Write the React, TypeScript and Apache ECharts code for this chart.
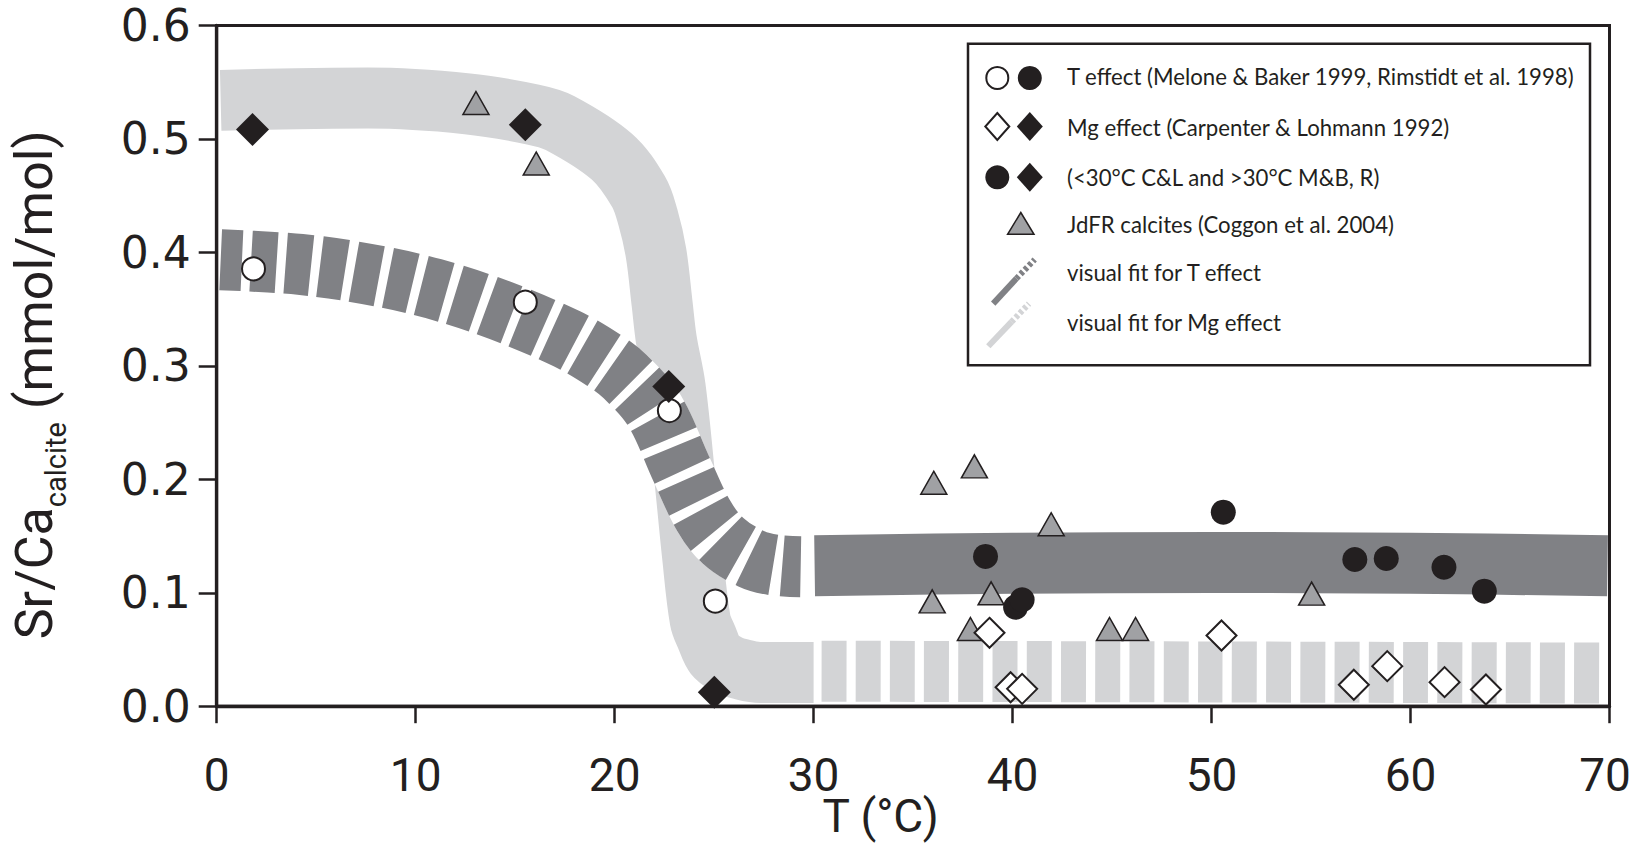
import React, { useEffect, useRef } from "react";
import * as echarts from "echarts";

const INK = "#231f20";
const LIGHT = "#d3d4d6";
const DARK = "#808185";
const TRI = "#a0a1a4";

// visual fit for Mg effect (light band): solid part 0-30 °C, dashed part 30-70 °C
const mgFitSolid: number[][] = [
  [0.2, 0.534], [4.0, 0.5355], [7.6, 0.536], [12.6, 0.531], [15.9, 0.5215],
  [17.26, 0.514], [19.86, 0.4844], [21.2, 0.4535], [21.67, 0.431], [22.08, 0.3995],
  [22.38, 0.3556], [22.6, 0.3228], [23.04, 0.2814], [23.57, 0.1932], [23.9, 0.135],
  [24.3, 0.0759], [24.63, 0.0605], [25.04, 0.0451], [25.67, 0.0368], [26.3, 0.0328],
  [27.32, 0.0297], [30.0, 0.0297],
];
const mgFitDashed: number[][] = [[30.4, 0.0308], [50, 0.0302], [69.5, 0.0292]];

// visual fit for T effect (dark band): dashed part 0-30 °C, solid part 30-70 °C
const tFitDashed: number[][] = [
  [0.2, 0.3936], [4.2, 0.3894], [7.55, 0.381], [10.9, 0.368], [14.25, 0.3488],
  [17.6, 0.3238], [19.45, 0.305], [20.53, 0.2905], [22.0, 0.2606], [23.35, 0.2092],
  [24.47, 0.168], [25.44, 0.146], [26.86, 0.13], [28.0, 0.1245], [29.35, 0.1229],
];
const tFitSolid: number[][] = [[30.05, 0.1238], [40, 0.126], [50, 0.1267], [60, 0.126], [69.9, 0.1238]];

// T effect, open circles (Melone & Baker 1999, Rimstidt et al. 1998)
const tEffectOpen: number[][] = [[1.85, 0.3855], [15.51, 0.3561], [22.75, 0.2606], [25.06, 0.0926]];
// >30 °C M&B, R filled circles
const tEffectFilled: number[][] = [
  [38.64, 0.132], [40.15, 0.0873], [40.48, 0.0938], [50.59, 0.171],
  [57.2, 0.1293], [58.78, 0.1302], [61.68, 0.1225], [63.71, 0.1014],
];
// Mg effect open diamonds (Carpenter & Lohmann 1992)
const mgEffectOpen: number[][] = [
  [38.84, 0.0647], [39.9, 0.0167], [40.48, 0.0153], [50.5, 0.0623],
  [57.15, 0.0189], [58.83, 0.0353], [61.71, 0.0212], [63.79, 0.0147],
];
// <30 °C C&L filled diamonds
const mgEffectFilled: number[][] = [[1.8, 0.5083], [15.51, 0.5125], [22.72, 0.2818], [25.01, 0.0123]];
// JdFR calcites (Coggon et al. 2004)
const jdfr: number[][] = [
  [13.03, 0.5317], [16.06, 0.4784], [36.04, 0.197], [38.08, 0.2114], [41.94, 0.1604],
  [35.96, 0.0924], [38.92, 0.0995], [37.88, 0.068], [44.87, 0.068], [46.18, 0.068], [55.03, 0.0992],
];

const legendLabels = [
  "T effect (Melone & Baker 1999, Rimstidt et al. 1998)",
  "Mg effect (Carpenter & Lohmann 1992)",
  "(<30°C C&L and >30°C M&B, R)",
  "JdFR calcites (Coggon et al. 2004)",
  "visual fit for T effect",
  "visual fit for Mg effect",
];

const BAND_W = 61;

function band(data: number[][], color: string, z: number, dash?: number[], offset = 0) {
  return {
    type: "line",
    data,
    showSymbol: false,
    symbol: "none",
    smooth: 0.35,
    silent: true,
    z,
    lineStyle: {
      width: BAND_W,
      color,
      cap: "butt",
      join: "round",
      type: dash ? dash : "solid",
      dashOffset: offset,
    },
    emphasis: { disabled: true },
  };
}

function scatter(data: number[][], symbol: string, size: any, fill: string, border: string, bw: number, z: number) {
  return {
    type: "scatter",
    data,
    symbol,
    symbolSize: size,
    z,
    silent: true,
    itemStyle: { color: fill, borderColor: border, borderWidth: bw, opacity: 1 },
    emphasis: { disabled: true },
  };
}

const diamond = (cx: number, cy: number, hw: number, hh: number) => [
  [cx, cy - hh], [cx + hw, cy], [cx, cy + hh], [cx - hw, cy],
];

function legendGraphic() {
  const rows = [76.5, 127, 177.3, 224.5, 272.7, 322];
  const tx = 1067;
  const els: any[] = [
    { type: "rect", shape: { x: 968, y: 43.7, width: 622, height: 321.6 }, style: { fill: "#fff", stroke: INK, lineWidth: 2.5 }, z: 100 },
    { type: "circle", shape: { cx: 997.3, cy: 78, r: 11 }, style: { fill: "#fff", stroke: INK, lineWidth: 2 }, z: 101 },
    { type: "circle", shape: { cx: 1029.8, cy: 78, r: 12 }, style: { fill: INK }, z: 101 },
    { type: "polygon", shape: { points: diamond(997.3, 126.5, 12, 13.5) }, style: { fill: "#fff", stroke: INK, lineWidth: 2 }, z: 101 },
    { type: "polygon", shape: { points: diamond(1029.8, 126.5, 13, 14.5) }, style: { fill: INK }, z: 101 },
    { type: "circle", shape: { cx: 997.3, cy: 177.3, r: 12 }, style: { fill: INK }, z: 101 },
    { type: "polygon", shape: { points: diamond(1029.8, 177.3, 13, 14.5) }, style: { fill: INK }, z: 101 },
    { type: "polygon", shape: { points: [[1020.8, 212.5], [1034, 234.3], [1007.6, 234.3]] }, style: { fill: TRI, stroke: INK, lineWidth: 1.5 }, z: 101 },
    { type: "line", shape: { x1: 993.2, y1: 303.6, x2: 1016.4, y2: 278.5 }, style: { stroke: DARK, lineWidth: 6 }, z: 101 },
    { type: "line", shape: { x1: 1016.4, y1: 278.5, x2: 1034.7, y2: 259.5 }, style: { stroke: DARK, lineWidth: 6, lineDash: [3.5, 2.5] }, z: 101 },
    { type: "line", shape: { x1: 988.3, y1: 346.3, x2: 1011.5, y2: 321.9 }, style: { stroke: LIGHT, lineWidth: 6 }, z: 101 },
    { type: "line", shape: { x1: 1011.5, y1: 321.9, x2: 1029, y2: 303.6 }, style: { stroke: LIGHT, lineWidth: 6, lineDash: [3.5, 2.5] }, z: 101 },
  ];
  legendLabels.forEach((t, i) => {
    els.push({
      type: "text",
      x: tx,
      y: rows[i],
      z: 102,
      style: { text: t, fontFamily: "Lato", fontSize: 22.2, fill: INK, align: "left", verticalAlign: "middle" },
    });
  });
  return els;
}

export default function App() {
  const ref = useRef<HTMLDivElement>(null);
  useEffect(() => {
    if (!ref.current) return;
    const chart = echarts.init(ref.current, undefined, { renderer: "svg" });
    const xLabelStyle = { fontFamily: "Roboto", fontSize: 46, color: INK };
    const option: any = {
      animation: false,
      backgroundColor: "#ffffff",
      grid: {
        left: 216.7, right: 22.5, top: 25.5, bottom: 149.8,
        containLabel: false, outerBoundsMode: "none",
        show: true, borderColor: INK, borderWidth: 3, backgroundColor: "transparent",
      },
      xAxis: {
        type: "value", min: 0, max: 70, interval: 10,
        name: "T (°C)", nameLocation: "middle", nameGap: 87, nameMoveOverlap: false,
        nameTextStyle: { fontFamily: "Roboto", fontSize: 46, color: INK, padding: [0, 65, 0, 0] },
        axisLine: { show: true, onZero: false, lineStyle: { color: INK, width: 3.3 } },
        axisTick: { show: true, inside: false, length: 17, lineStyle: { color: INK, width: 2.5 } },
        axisLabel: {
          margin: 46, ...xLabelStyle,
          formatter: (v: number) => (v >= 70 ? `{e|${v}}` : `${v}`),
          rich: { e: { ...xLabelStyle, padding: [0, 9, 0, 0] } },
        },
        splitLine: { show: false },
      },
      yAxis: {
        type: "value", min: 0, max: 0.6, interval: 0.1,
        name: "{a|Sr/Ca}{b|calcite}{a| (mmol/mol)}", nameLocation: "middle", nameGap: 146, nameMoveOverlap: false,
        nameTextStyle: {
          padding: [0, 38, 0, 0],
          rich: {
            a: { fontFamily: "Roboto", fontSize: 52, lineHeight: 72, color: INK },
            b: { fontFamily: "Roboto", fontSize: 29, lineHeight: 10, verticalAlign: "bottom", color: INK },
          },
        },
        axisLine: { show: true, onZero: false, lineStyle: { color: INK, width: 3.3 } },
        axisTick: { show: true, inside: false, length: 18, lineStyle: { color: INK, width: 2.5 } },
        axisLabel: { margin: 26, fontFamily: "DejaVu Sans", fontSize: 44, color: INK, formatter: (v: number) => v.toFixed(1) },
        splitLine: { show: false },
      },
      series: [
        band(mgFitSolid, LIGHT, 1),
        band(mgFitDashed, LIGHT, 1, [25, 9.2]),
        band(tFitDashed, "#ffffff", 2),
        band(tFitDashed, DARK, 3, [25.5, 9], 3.5),
        band(tFitSolid, DARK, 3),
        scatter(jdfr, "triangle", [26, 23], TRI, INK, 1.5, 10),
        scatter(tEffectOpen, "circle", 23, "#ffffff", INK, 2, 11),
        scatter(tEffectFilled, "circle", 25, INK, INK, 0, 12),
        scatter(mgEffectOpen, "diamond", 30, "#ffffff", INK, 2, 13),
        scatter(mgEffectFilled, "diamond", 33, INK, INK, 0, 14),
      ],
      graphic: legendGraphic(),
    };
    chart.setOption(option);
    return () => chart.dispose();
  }, []);
  return <div ref={ref} style={{ position: "absolute", left: 0, top: 0, width: 1632, height: 856 }} />;
}
